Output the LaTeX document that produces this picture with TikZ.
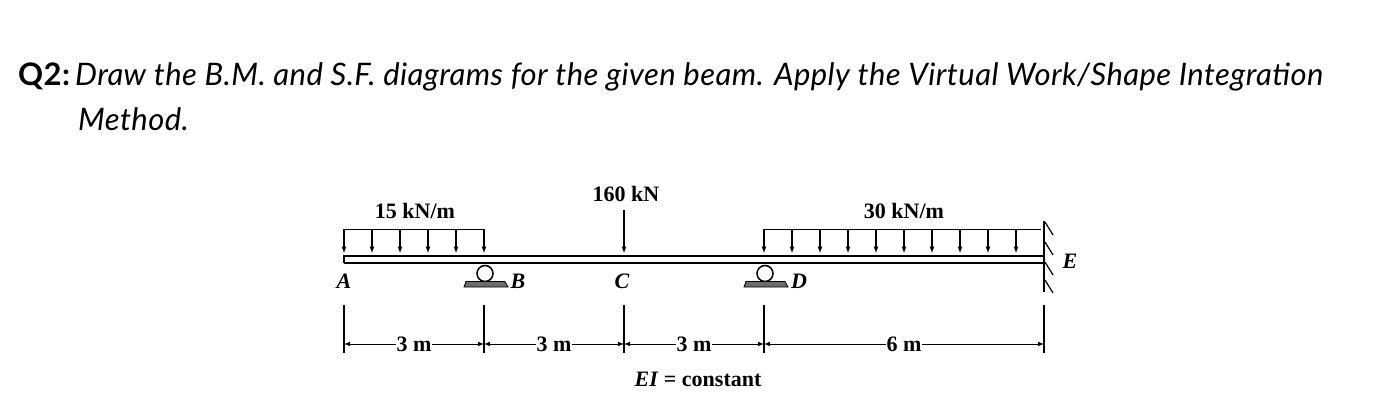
\documentclass[tikz,border=0pt]{standalone}
\usepackage{fontspec}
\setmainfont{Liberation Serif}
\newfontfamily\headfont[LetterSpace=1.35]{Lato}
\usetikzlibrary{arrows,positioning}
\tikzset{
  load/.style={->, >=latex, line width=1.2pt},
  dimline/.style={<->, >=latex, line width=1pt},
  extline/.style={line width=1.4pt},
  beamline/.style={line width=2.5pt},
  lbl/.style={font=\fontsize{22}{24}\selectfont\bfseries, inner sep=0pt},
  letter/.style={font=\fontsize{22}{24}\selectfont\bfseries\itshape, inner sep=0pt},
  head/.style={font=\headfont\fontsize{31}{32}\selectfont, anchor=base west, inner sep=0pt}
}
\begin{document}
\begin{tikzpicture}[x=1pt, y=-1pt]
    \useasboundingbox (0,0) rectangle (1378,412);

    \node[head] (title) at (18,85) {\textbf{Q2:}};
    \node[head] (line1) at (75,85) {\textit{Draw the B.M. and S.F. diagrams for the given beam. Apply the Virtual Work/Shape Integration}};
    \node[head] (line2) at (78,130) {\textit{Method.}};

    \coordinate (A) at (344,256);
    \coordinate (B) at (484,256);
    \coordinate (C) at (624,256);
    \coordinate (D) at (764,256);
    \coordinate (E) at (1044,256);
    \coordinate (A2) at (344,263);
    \coordinate (E2) at (1044,263);

    % beam
    \draw[beamline] (A2) -- (A) -- (E);
    \draw[beamline] (A2) -- (E2);

    % wall
    \coordinate (w1) at (1044,221);
    \coordinate (w2) at (1044,292);
    \draw[line width=2pt] (w1) -- (w2);
    \foreach \y in {222,242,262,280} {
        \draw[line width=1.2pt] (1045,\y) -- (1053,\y+13);
    }

    % distributed loads
    \coordinate (q1) at (344,229);
    \coordinate (q2) at (484,229);
    \coordinate (q3) at (764,229);
    \coordinate (q4) at (1041,229);
    \draw[line width=0.8pt] (q1) -- (q2);
    \draw[line width=0.8pt] (q3) -- (q4);
    \foreach \i in {0,...,5} {
        \draw[load] (344+28*\i,229) -- (344+28*\i,253);
    }
    \foreach \i in {0,...,9} {
        \draw[load] (764+28*\i,229) -- (764+28*\i,253);
    }

    % point load
    \coordinate (P) at (624,210);
    \draw[load, shorten >=3pt] (P) -- (C);

    % rollers
    \foreach \x/\n in {485/rb, 765/rd} {
        \node[circle, draw, line width=1.5pt, minimum size=16pt, inner sep=0pt] (\n) at (\x,273.5) {};
        \fill[gray!85!black, draw=black, line width=0.8pt] (\x-21,287) -- (\x-19,281.5) -- (\x+20,281.5) -- (\x+23,287) -- cycle;
    }

    \node[lbl] (q15) at (415,211) {15 kN/m};
    \node[lbl] (p160) at (626,194) {160 kN};
    \node[lbl] (q30) at (904,211) {30 kN/m};
    \node[letter] (a) at (344,281) {A};
    \node[letter] (b) at (518,281) {B};
    \node[letter] (c) at (622,281) {C};
    \node[letter] (d) at (799,281) {D};
    \node[letter] (e) at (1070,261) {E};

    % dimensions
    \foreach \x/\n in {344/a, 484/b, 624/c, 764/d, 1044/e} {
        \coordinate (\n1) at (\x,305);
        \coordinate (\n2) at (\x,353);
        \coordinate (\n3) at (\x,344);
        \draw[extline] (\n1) -- (\n2);
    }
    \draw[dimline] (a3) -- node[lbl, fill=white, inner xsep=1pt] (dimab) {3 m} (b3);
    \draw[dimline] (b3) -- node[lbl, fill=white, inner xsep=1pt] (dimbc) {3 m} (c3);
    \draw[dimline] (c3) -- node[lbl, fill=white, inner xsep=1pt] (dimcd) {3 m} (d3);
    \draw[dimline] (d3) -- node[lbl, fill=white, inner xsep=1pt] (dimde) {6 m} (e3);

    \node[lbl] (ei) at (698,379) {\textit{EI} = constant};
\end{tikzpicture}
\end{document}
